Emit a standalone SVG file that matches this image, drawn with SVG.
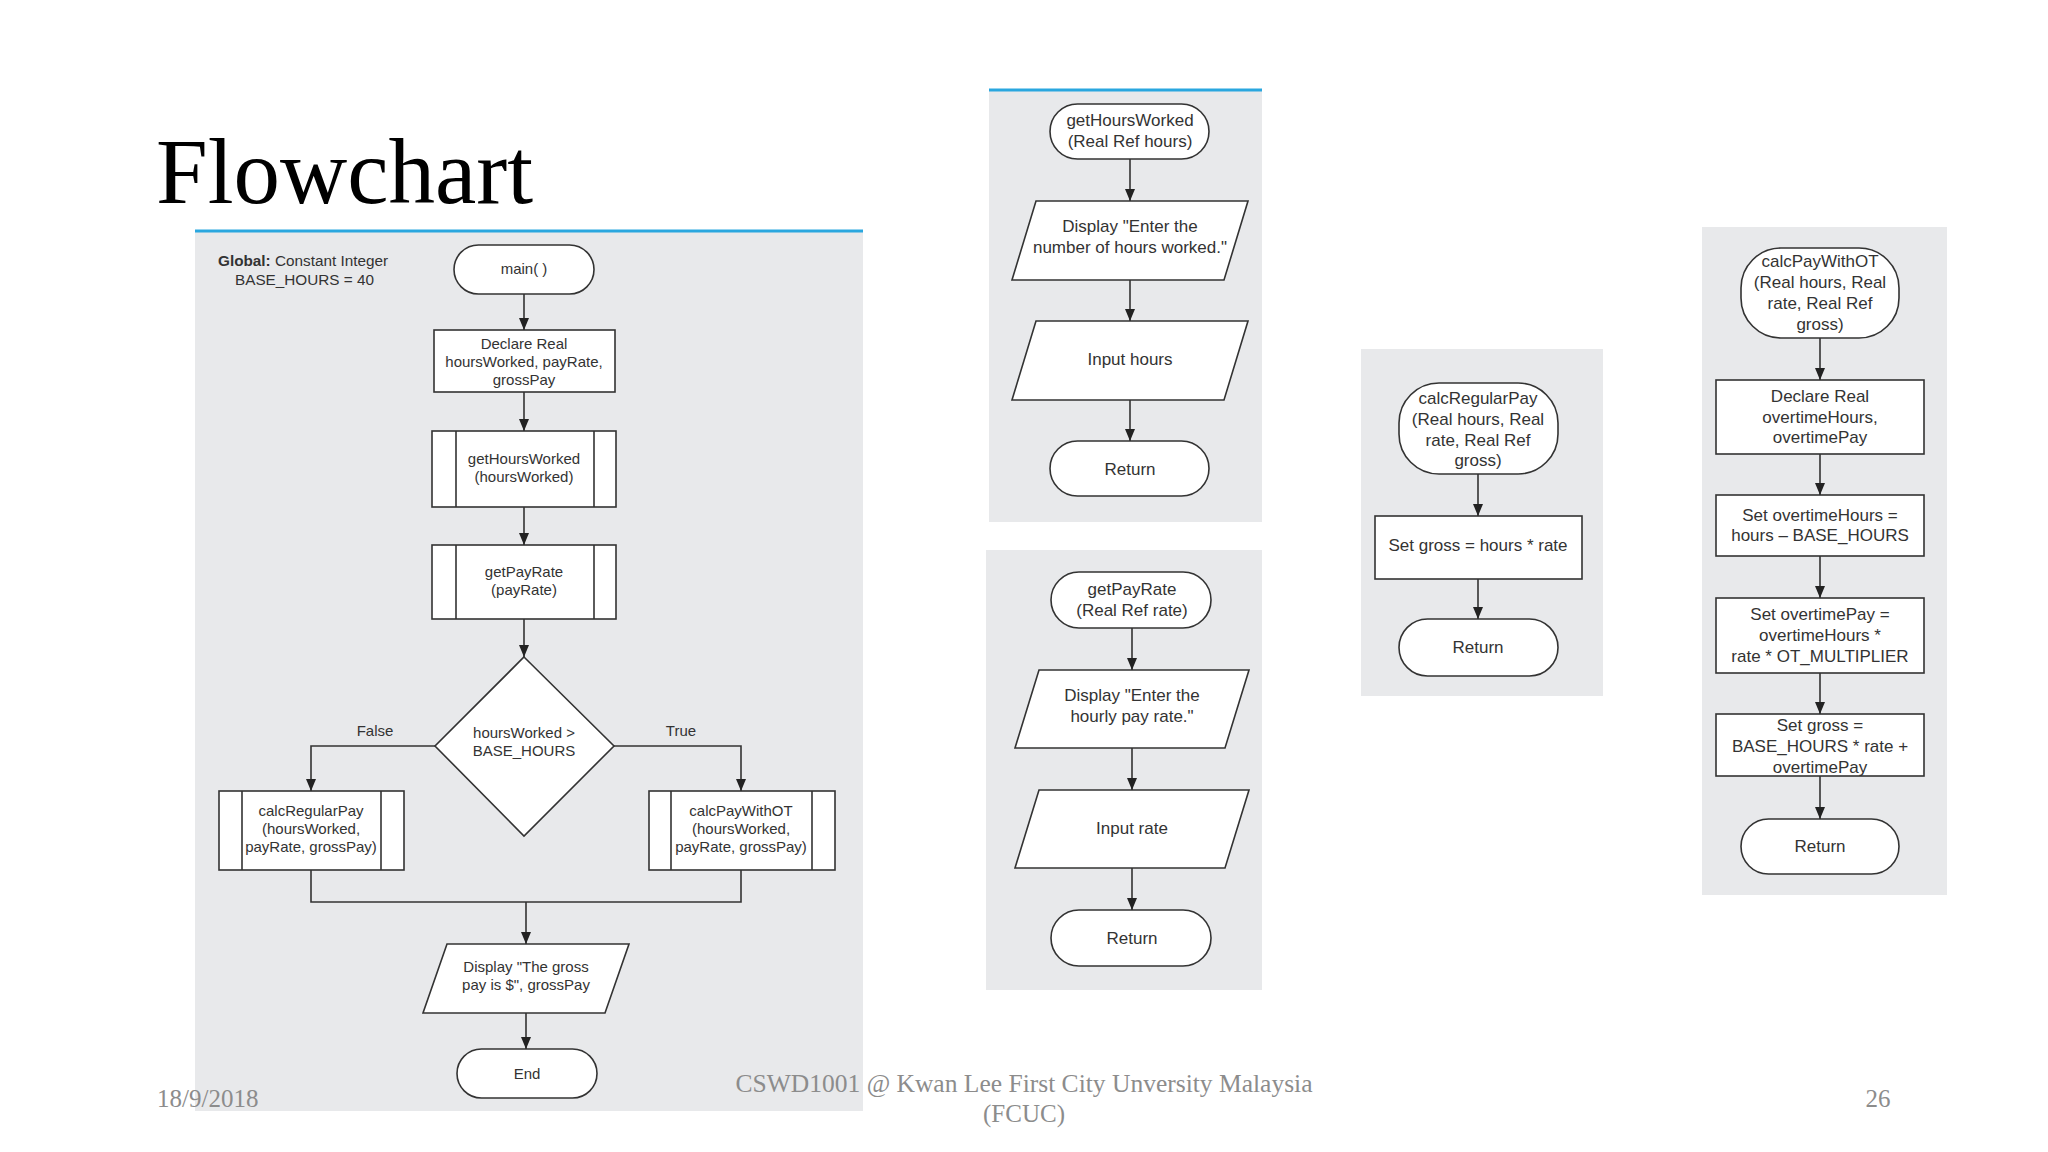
<svg xmlns="http://www.w3.org/2000/svg" width="2048" height="1152" viewBox="0 0 2048 1152">
<style>
.panel{fill:#e8e9eb}
.blue{stroke:#2aa7df;stroke-width:3}
.shape{fill:#ffffff;stroke:#333333;stroke-width:1.6}
.line{fill:none;stroke:#333333;stroke-width:1.6}
.t{font-family:"Liberation Sans",Arial,sans-serif;fill:#333333;text-anchor:middle}
.s15{font-size:15px}
.s17{font-size:17px}
.foot{font-family:"Liberation Serif","Times New Roman",serif;fill:#8c8c8c;font-size:25px}
</style>
<defs>
<marker id="arr" markerUnits="userSpaceOnUse" markerWidth="12" markerHeight="10" refX="12" refY="5" orient="auto">
<path d="M0,0 L12,5 L0,10 z" fill="#222222"/>
</marker>
</defs>
<rect width="2048" height="1152" fill="#ffffff"/>
<text x="156" y="203" font-family="Liberation Serif,'Times New Roman',serif" font-size="93" fill="#000000">Flowchart</text>

<!-- panels -->
<g id="panels">
<rect class="panel" x="195" y="230" width="668" height="881"/>
<line class="blue" x1="195" y1="231" x2="863" y2="231"/>
<rect class="panel" x="989" y="89" width="273" height="433"/>
<line class="blue" x1="989" y1="90" x2="1262" y2="90"/>
<rect class="panel" x="986" y="550" width="276" height="440"/>
<rect class="panel" x="1361" y="349" width="242" height="347"/>
<rect class="panel" x="1702" y="227" width="245" height="668"/>
</g>

<g id="global-note">
<text x="218" y="266" font-family="Liberation Sans,Arial,sans-serif" font-size="15.3" fill="#333333"><tspan font-weight="bold">Global:</tspan> Constant Integer</text>
<text x="235" y="285" font-family="Liberation Sans,Arial,sans-serif" font-size="15.3" fill="#333333">BASE_HOURS = 40</text>
</g>

<!-- main flowchart nodes -->
<g id="main-start">
<rect class="shape" x="454" y="245" width="140" height="49" rx="24.5"/>
<text class="t s15" x="524" y="274">main( )</text>
</g>
<g id="main-declare">
<rect class="shape" x="434" y="330" width="181" height="62"/>
<text class="t s15" x="524" y="349">Declare Real</text>
<text class="t s15" x="524" y="367">hoursWorked, payRate,</text>
<text class="t s15" x="524" y="385">grossPay</text>
</g>
<g id="main-gethours">
<rect class="shape" x="432" y="431" width="184" height="76"/>
<line class="line" x1="456" y1="431" x2="456" y2="507"/>
<line class="line" x1="594" y1="431" x2="594" y2="507"/>
<text class="t s15" x="524" y="464">getHoursWorked</text>
<text class="t s15" x="524" y="482">(hoursWorked)</text>
</g>
<g id="main-getpay">
<rect class="shape" x="432" y="545" width="184" height="74"/>
<line class="line" x1="456" y1="545" x2="456" y2="619"/>
<line class="line" x1="594" y1="545" x2="594" y2="619"/>
<text class="t s15" x="524" y="577">getPayRate</text>
<text class="t s15" x="524" y="595">(payRate)</text>
</g>
<g id="main-decision">
<polygon class="shape" points="524,657 614,746 524,836 435,746"/>
<text class="t s15" x="524" y="738">hoursWorked &gt;</text>
<text class="t s15" x="524" y="756">BASE_HOURS</text>
</g>
<g id="main-calcregular">
<rect class="shape" x="219" y="791" width="185" height="79"/>
<line class="line" x1="242" y1="791" x2="242" y2="870"/>
<line class="line" x1="381" y1="791" x2="381" y2="870"/>
<text class="t s15" x="311" y="816">calcRegularPay</text>
<text class="t s15" x="311" y="834">(hoursWorked,</text>
<text class="t s15" x="311" y="852">payRate, grossPay)</text>
</g>
<g id="main-calcot">
<rect class="shape" x="649" y="791" width="186" height="79"/>
<line class="line" x1="671" y1="791" x2="671" y2="870"/>
<line class="line" x1="812" y1="791" x2="812" y2="870"/>
<text class="t s15" x="741" y="816">calcPayWithOT</text>
<text class="t s15" x="741" y="834">(hoursWorked,</text>
<text class="t s15" x="741" y="852">payRate, grossPay)</text>
</g>
<g id="main-display">
<polygon class="shape" points="447,944 629,944 605,1013 423,1013"/>
<text class="t s15" x="526" y="972">Display "The gross</text>
<text class="t s15" x="526" y="990">pay is $", grossPay</text>
</g>
<g id="main-end">
<rect class="shape" x="457" y="1049" width="140" height="49" rx="24.5"/>
<text class="t s15" x="527" y="1079">End</text>
</g>

<!-- getHoursWorked module -->
<g id="gh-start">
<rect class="shape" x="1050" y="104" width="159" height="55" rx="27.5"/>
<text class="t s17" x="1130" y="126">getHoursWorked</text>
<text class="t s17" x="1130" y="147">(Real Ref hours)</text>
</g>
<g id="gh-display">
<polygon class="shape" points="1036,201 1248,201 1224,280 1012,280"/>
<text class="t s17" x="1130" y="232">Display "Enter the</text>
<text class="t s17" x="1130" y="253">number of hours worked."</text>
</g>
<g id="gh-input">
<polygon class="shape" points="1036,321 1248,321 1224,400 1012,400"/>
<text class="t s17" x="1130" y="365">Input hours</text>
</g>
<g id="gh-return">
<rect class="shape" x="1050" y="441" width="159" height="55" rx="27.5"/>
<text class="t s17" x="1130" y="475">Return</text>
</g>

<!-- getPayRate module -->
<g id="gp-start">
<rect class="shape" x="1051" y="572" width="160" height="56" rx="28"/>
<text class="t s17" x="1132" y="595">getPayRate</text>
<text class="t s17" x="1132" y="616">(Real Ref rate)</text>
</g>
<g id="gp-display">
<polygon class="shape" points="1039,670 1249,670 1225,748 1015,748"/>
<text class="t s17" x="1132" y="701">Display "Enter the</text>
<text class="t s17" x="1132" y="722">hourly pay rate."</text>
</g>
<g id="gp-input">
<polygon class="shape" points="1039,790 1249,790 1225,868 1015,868"/>
<text class="t s17" x="1132" y="834">Input rate</text>
</g>
<g id="gp-return">
<rect class="shape" x="1051" y="910" width="160" height="56" rx="28"/>
<text class="t s17" x="1132" y="944">Return</text>
</g>

<!-- calcRegularPay module -->
<g id="cr-start">
<rect class="shape" x="1399" y="383" width="159" height="91" rx="40"/>
<text class="t s17" x="1478" y="404">calcRegularPay</text>
<text class="t s17" x="1478" y="425">(Real hours, Real</text>
<text class="t s17" x="1478" y="446">rate, Real Ref</text>
<text class="t s17" x="1478" y="466">gross)</text>
</g>
<g id="cr-set">
<rect class="shape" x="1375" y="516" width="207" height="63"/>
<text class="t s17" x="1478" y="551">Set gross = hours * rate</text>
</g>
<g id="cr-return">
<rect class="shape" x="1399" y="619" width="159" height="57" rx="28.5"/>
<text class="t s17" x="1478" y="653">Return</text>
</g>

<!-- calcPayWithOT module -->
<g id="ot-start">
<rect class="shape" x="1741" y="248" width="158" height="90" rx="40"/>
<text class="t s17" x="1820" y="267">calcPayWithOT</text>
<text class="t s17" x="1820" y="288">(Real hours, Real</text>
<text class="t s17" x="1820" y="309">rate, Real Ref</text>
<text class="t s17" x="1820" y="330">gross)</text>
</g>
<g id="ot-declare">
<rect class="shape" x="1716" y="380" width="208" height="74"/>
<text class="t s17" x="1820" y="402">Declare Real</text>
<text class="t s17" x="1820" y="423">overtimeHours,</text>
<text class="t s17" x="1820" y="443">overtimePay</text>
</g>
<g id="ot-sethours">
<rect class="shape" x="1716" y="495" width="208" height="61"/>
<text class="t s17" x="1820" y="521">Set overtimeHours =</text>
<text class="t s17" x="1820" y="541">hours – BASE_HOURS</text>
</g>
<g id="ot-setpay">
<rect class="shape" x="1716" y="598" width="208" height="75"/>
<text class="t s17" x="1820" y="620">Set overtimePay =</text>
<text class="t s17" x="1820" y="641">overtimeHours *</text>
<text class="t s17" x="1820" y="662">rate * OT_MULTIPLIER</text>
</g>
<g id="ot-setgross">
<rect class="shape" x="1716" y="714" width="208" height="62"/>
<text class="t s17" x="1820" y="731">Set gross =</text>
<text class="t s17" x="1820" y="752">BASE_HOURS * rate +</text>
<text class="t s17" x="1820" y="773">overtimePay</text>
</g>
<g id="ot-return">
<rect class="shape" x="1741" y="819" width="158" height="55" rx="27.5"/>
<text class="t s17" x="1820" y="852">Return</text>
</g>

<!-- connectors -->
<g id="connectors">
<line class="line" x1="524" y1="294" x2="524" y2="330" marker-end="url(#arr)"/>
<line class="line" x1="524" y1="392" x2="524" y2="431" marker-end="url(#arr)"/>
<line class="line" x1="524" y1="507" x2="524" y2="545" marker-end="url(#arr)"/>
<line class="line" x1="524" y1="619" x2="524" y2="657" marker-end="url(#arr)"/>
<polyline class="line" points="435,746 311,746 311,791" marker-end="url(#arr)"/>
<polyline class="line" points="614,746 741,746 741,791" marker-end="url(#arr)"/>
<polyline class="line" points="311,870 311,902 741,902 741,870"/>
<line class="line" x1="526" y1="902" x2="526" y2="944" marker-end="url(#arr)"/>
<line class="line" x1="526" y1="1013" x2="526" y2="1049" marker-end="url(#arr)"/>
<text class="t s15" x="375" y="736">False</text>
<text class="t s15" x="681" y="736">True</text>

<line class="line" x1="1130" y1="159" x2="1130" y2="201" marker-end="url(#arr)"/>
<line class="line" x1="1130" y1="280" x2="1130" y2="321" marker-end="url(#arr)"/>
<line class="line" x1="1130" y1="400" x2="1130" y2="441" marker-end="url(#arr)"/>

<line class="line" x1="1132" y1="628" x2="1132" y2="670" marker-end="url(#arr)"/>
<line class="line" x1="1132" y1="748" x2="1132" y2="790" marker-end="url(#arr)"/>
<line class="line" x1="1132" y1="868" x2="1132" y2="910" marker-end="url(#arr)"/>

<line class="line" x1="1478" y1="474" x2="1478" y2="516" marker-end="url(#arr)"/>
<line class="line" x1="1478" y1="579" x2="1478" y2="619" marker-end="url(#arr)"/>

<line class="line" x1="1820" y1="338" x2="1820" y2="380" marker-end="url(#arr)"/>
<line class="line" x1="1820" y1="454" x2="1820" y2="495" marker-end="url(#arr)"/>
<line class="line" x1="1820" y1="556" x2="1820" y2="598" marker-end="url(#arr)"/>
<line class="line" x1="1820" y1="673" x2="1820" y2="714" marker-end="url(#arr)"/>
<line class="line" x1="1820" y1="776" x2="1820" y2="819" marker-end="url(#arr)"/>
</g>

<g id="footer">
<text class="foot" x="157" y="1107">18/9/2018</text>
<text class="foot" x="1024" y="1092" text-anchor="middle" textLength="577" lengthAdjust="spacingAndGlyphs">CSWD1001 @ Kwan Lee First City Unversity Malaysia</text>
<text class="foot" x="1024" y="1122" text-anchor="middle">(FCUC)</text>
<text class="foot" x="1878" y="1107" text-anchor="middle">26</text>
</g>
</svg>
